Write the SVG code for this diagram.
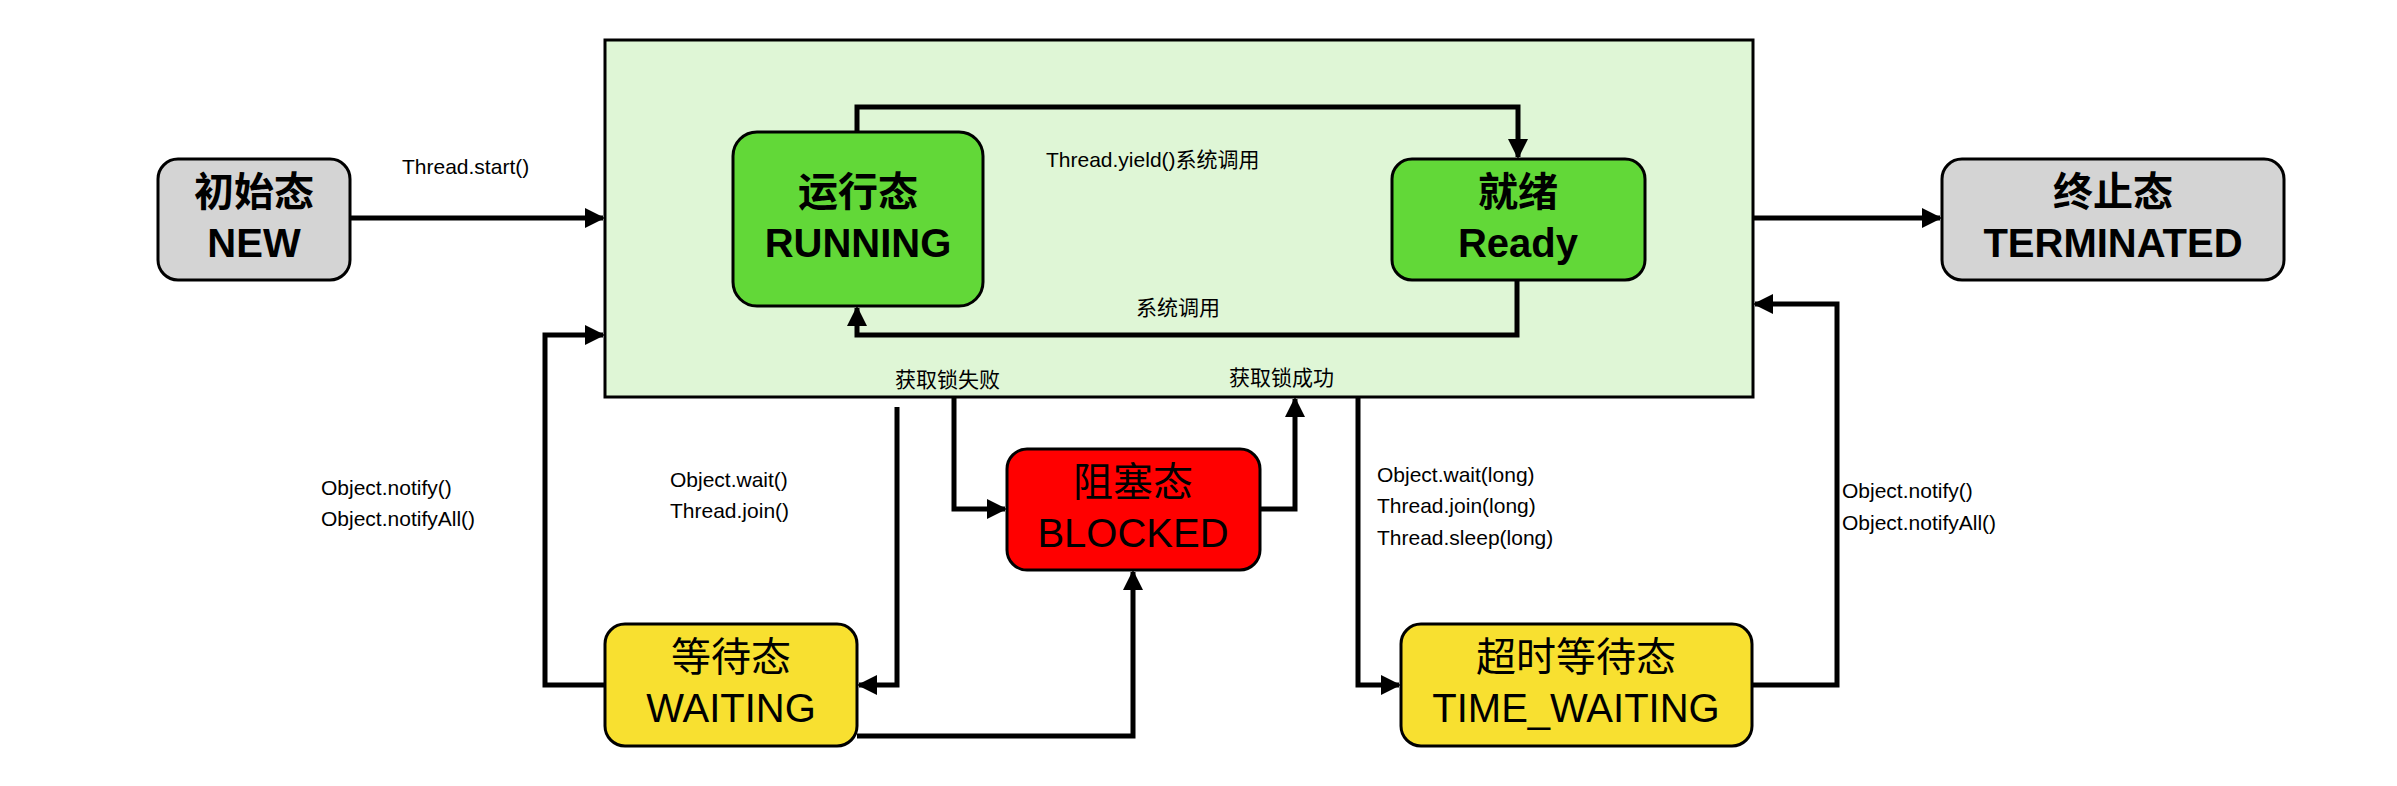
<svg xmlns="http://www.w3.org/2000/svg" width="2397" height="786" viewBox="0 0 2397 786">
<style>
.box{stroke:#000;stroke-width:3}
.t{font-family:"Liberation Sans","Noto Sans CJK SC",sans-serif;text-anchor:middle}
.b{font-weight:bold;font-size:40px}
.n{font-size:40px}
.l{font-family:"Liberation Sans","Noto Sans CJK SC",sans-serif;font-size:21px}
.c{fill:none;stroke:#000;stroke-width:5}
</style>
<defs>
<marker id="a" viewBox="0 0 10 10" refX="9" refY="5" markerWidth="4" markerHeight="4" orient="auto" markerUnits="strokeWidth"><path d="M0,0L10,5L0,10z" fill="#000"/></marker>
</defs>
<rect width="2397" height="786" fill="#fff"/>
<g id="container"><rect x="605" y="40" width="1148" height="357" fill="#dff6d6" stroke="#000" stroke-width="3"/></g>
<g id="new"><rect class="box" x="158" y="159" width="192" height="121" rx="20" fill="#d4d4d4"/><text class="t b" x="254" y="206">初始态</text><text class="t b" x="254" y="257">NEW</text></g>
<g id="running"><rect class="box" x="733" y="132" width="250" height="174" rx="24" fill="#62d838"/><text class="t b" x="858" y="206">运行态</text><text class="t b" x="858" y="257">RUNNING</text></g>
<g id="ready"><rect class="box" x="1392" y="159" width="253" height="121" rx="20" fill="#62d838"/><text class="t b" x="1518" y="206">就绪</text><text class="t b" x="1518" y="257">Ready</text></g>
<g id="terminated"><rect class="box" x="1942" y="159" width="342" height="121" rx="20" fill="#d4d4d4"/><text class="t b" x="2113" y="206">终止态</text><text class="t b" x="2113" y="257">TERMINATED</text></g>
<g id="blocked"><rect class="box" x="1007" y="449" width="253" height="121" rx="20" fill="#ff0000"/><text class="t n" x="1133" y="496">阻塞态</text><text class="t n" x="1133" y="547">BLOCKED</text></g>
<g id="waiting"><rect class="box" x="605" y="624" width="252" height="122" rx="20" fill="#f8e030"/><text class="t n" x="731" y="671">等待态</text><text class="t n" x="731" y="722">WAITING</text></g>
<g id="timewaiting"><rect class="box" x="1401" y="624" width="351" height="122" rx="20" fill="#f8e030"/><text class="t n" x="1576" y="671">超时等待态</text><text class="t n" x="1576" y="722">TIME_WAITING</text></g>
<g id="connectors">
<path class="c" marker-end="url(#a)" d="M350,218H603"/>
<path class="c" marker-end="url(#a)" d="M857,132V107H1518V157"/>
<path class="c" marker-end="url(#a)" d="M1517,280V335H857V308"/>
<path class="c" marker-end="url(#a)" d="M1753,218H1940"/>
<path class="c" marker-end="url(#a)" d="M605,685H545V335H603"/>
<path class="c" marker-end="url(#a)" d="M897,407V685H859"/>
<path class="c" marker-end="url(#a)" d="M954,397V509H1005"/>
<path class="c" marker-end="url(#a)" d="M857,736H1133V572"/>
<path class="c" marker-end="url(#a)" d="M1260,509H1295V399"/>
<path class="c" marker-end="url(#a)" d="M1358,397V685H1399"/>
<path class="c" marker-end="url(#a)" d="M1752,685H1837V304H1755"/>
</g>
<g id="labels">
<text class="l" x="402" y="174">Thread.start()</text>
<text class="l" x="1046" y="167">Thread.yield()系统调用</text>
<text class="l" x="1136" y="315">系统调用</text>
<text class="l" x="895" y="387">获取锁失败</text>
<text class="l" x="1229" y="385">获取锁成功</text>
<text class="l" x="321" y="495">Object.notify()</text>
<text class="l" x="321" y="526">Object.notifyAll()</text>
<text class="l" x="670" y="487">Object.wait()</text>
<text class="l" x="670" y="518">Thread.join()</text>
<text class="l" x="1377" y="482">Object.wait(long)</text>
<text class="l" x="1377" y="513">Thread.join(long)</text>
<text class="l" x="1377" y="545">Thread.sleep(long)</text>
<text class="l" x="1842" y="498">Object.notify()</text>
<text class="l" x="1842" y="530">Object.notifyAll()</text>
</g>
</svg>
